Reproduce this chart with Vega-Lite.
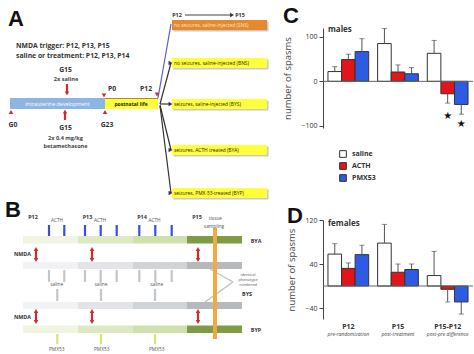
{
  "$schema": "https://vega.github.io/schema/vega-lite/v6.json",
  "padding": {"top": 5, "left": 0, "right": 0, "bottom": 0},
  "spacing": 7,
  "config": {
    "view": {"stroke": null},
    "font": "Open Sans",
    "axis": {"labelFont": "Open Sans", "titleFont": "Open Sans"},
    "legend": {"labelFont": "Open Sans"},
    "title": {"font": "Liberation Sans"}
  },
  "datasets": {
    "rects": [
      {"x": 173.5, "x2": 268.5, "y": 18.5, "y2": 28.5, "kind": "shadow"},
      {"x": 173.5, "x2": 268.5, "y": 56.5, "y2": 66.5, "kind": "shadow"},
      {"x": 173.5, "x2": 268.5, "y": 97.5, "y2": 107.5, "kind": "shadow"},
      {"x": 173.5, "x2": 268.5, "y": 143.5, "y2": 153.5, "kind": "shadow"},
      {"x": 173.5, "x2": 268.5, "y": 186.5, "y2": 196.5, "kind": "shadow"},
      {"x": 10, "x2": 105, "y": 95, "y2": 106, "kind": "blue"},
      {"x": 105, "x2": 158, "y": 95, "y2": 106, "kind": "yel"},
      {"x": 172, "x2": 267, "y": 17, "y2": 27, "kind": "orange"},
      {"x": 172, "x2": 267, "y": 55, "y2": 65, "kind": "yel"},
      {"x": 172, "x2": 267, "y": 96, "y2": 106, "kind": "yel"},
      {"x": 172, "x2": 267, "y": 142, "y2": 152, "kind": "yel"},
      {"x": 172, "x2": 267, "y": 185, "y2": 195, "kind": "yel"},
      {"x": 23, "x2": 78, "y": 233, "y2": 240.5, "kind": "g1"},
      {"x": 78, "x2": 133, "y": 233, "y2": 240.5, "kind": "g2"},
      {"x": 133, "x2": 187, "y": 233, "y2": 240.5, "kind": "g3"},
      {"x": 187, "x2": 242, "y": 233, "y2": 240.5, "kind": "g4"},
      {"x": 23, "x2": 78, "y": 259, "y2": 266, "kind": "s1"},
      {"x": 78, "x2": 133, "y": 259, "y2": 266, "kind": "s2"},
      {"x": 133, "x2": 187, "y": 259, "y2": 266, "kind": "s3"},
      {"x": 187, "x2": 242, "y": 259, "y2": 266, "kind": "s4"},
      {"x": 23, "x2": 78, "y": 299, "y2": 306, "kind": "s1"},
      {"x": 78, "x2": 133, "y": 299, "y2": 306, "kind": "s2"},
      {"x": 133, "x2": 187, "y": 299, "y2": 306, "kind": "s3"},
      {"x": 187, "x2": 242, "y": 299, "y2": 306, "kind": "s4"},
      {"x": 23, "x2": 78, "y": 322.5, "y2": 330, "kind": "g1"},
      {"x": 78, "x2": 133, "y": 322.5, "y2": 330, "kind": "g2"},
      {"x": 133, "x2": 187, "y": 322.5, "y2": 330, "kind": "g3"},
      {"x": 187, "x2": 242, "y": 322.5, "y2": 330, "kind": "g4"}
    ],
    "lines": [
      {"x": 158, "y": 95, "x2": 171, "y2": 21, "kind": "fanblue"},
      {"x": 160, "y": 101, "x2": 171, "y2": 60, "kind": "fan"},
      {"x": 160, "y": 101, "x2": 171, "y2": 101, "kind": "fan"},
      {"x": 160, "y": 102, "x2": 171, "y2": 147, "kind": "fan"},
      {"x": 160, "y": 103, "x2": 171, "y2": 190, "kind": "fan"},
      {"x": 185, "y": 12, "x2": 232, "y2": 12, "kind": "time"},
      {"x": 105, "y": 95.5, "x2": 158, "y2": 95.5, "kind": "brown"},
      {"x": 210, "y": 266, "x2": 233, "y2": 279, "kind": "zig"},
      {"x": 233, "y": 279, "x2": 205, "y2": 299, "kind": "zig"},
      {"x": 67, "y": 81, "x2": 67, "y2": 90, "kind": "red"},
      {"x": 65, "y": 109, "x2": 65, "y2": 117, "kind": "red"},
      {"x": 36, "y": 246, "x2": 36, "y2": 257, "kind": "red"},
      {"x": 92, "y": 246, "x2": 92, "y2": 257, "kind": "red"},
      {"x": 198, "y": 246, "x2": 198, "y2": 257, "kind": "red"},
      {"x": 36, "y": 308, "x2": 36, "y2": 319, "kind": "red"},
      {"x": 92, "y": 308, "x2": 92, "y2": 319, "kind": "red"},
      {"x": 198, "y": 308, "x2": 198, "y2": 319, "kind": "red"},
      {"x": 49, "y": 222, "x2": 49, "y2": 233, "kind": "bluetick"},
      {"x": 64.3, "y": 222, "x2": 64.3, "y2": 233, "kind": "bluetick"},
      {"x": 85, "y": 222, "x2": 85, "y2": 233, "kind": "bluetick"},
      {"x": 100.7, "y": 222, "x2": 100.7, "y2": 233, "kind": "bluetick"},
      {"x": 116.7, "y": 222, "x2": 116.7, "y2": 233, "kind": "bluetick"},
      {"x": 139.3, "y": 222, "x2": 139.3, "y2": 233, "kind": "bluetick"},
      {"x": 155.3, "y": 222, "x2": 155.3, "y2": 233, "kind": "bluetick"},
      {"x": 171.7, "y": 222, "x2": 171.7, "y2": 233, "kind": "bluetick"},
      {"x": 49, "y": 267, "x2": 49, "y2": 279, "kind": "graytick"},
      {"x": 64.3, "y": 267, "x2": 64.3, "y2": 279, "kind": "graytick"},
      {"x": 85, "y": 267, "x2": 85, "y2": 279, "kind": "graytick"},
      {"x": 100.7, "y": 267, "x2": 100.7, "y2": 279, "kind": "graytick"},
      {"x": 116.7, "y": 267, "x2": 116.7, "y2": 279, "kind": "graytick"},
      {"x": 139.3, "y": 267, "x2": 139.3, "y2": 279, "kind": "graytick"},
      {"x": 155.3, "y": 267, "x2": 155.3, "y2": 279, "kind": "graytick"},
      {"x": 171.7, "y": 267, "x2": 171.7, "y2": 279, "kind": "graytick"},
      {"x": 57.3, "y": 286, "x2": 57.3, "y2": 298, "kind": "graytick"},
      {"x": 101, "y": 286, "x2": 101, "y2": 298, "kind": "graytick"},
      {"x": 155, "y": 286, "x2": 155, "y2": 298, "kind": "graytick"},
      {"x": 57.3, "y": 331, "x2": 57.3, "y2": 341, "kind": "yeltick"},
      {"x": 101, "y": 331, "x2": 101, "y2": 341, "kind": "yeltick"},
      {"x": 155, "y": 331, "x2": 155, "y2": 341, "kind": "yeltick"},
      {"x": 215, "y": 225, "x2": 215, "y2": 336, "kind": "orange"}
    ],
    "heads": [
      {"x": 67, "y": 90.5, "kind": "rd"},
      {"x": 104, "y": 92.5, "kind": "rd"},
      {"x": 157, "y": 91.5, "kind": "rd"},
      {"x": 65, "y": 108.5, "kind": "ru"},
      {"x": 11, "y": 109, "kind": "ru"},
      {"x": 105, "y": 109, "kind": "ru"},
      {"x": 36, "y": 246, "kind": "ru"},
      {"x": 92, "y": 246, "kind": "ru"},
      {"x": 198, "y": 246, "kind": "ru"},
      {"x": 36, "y": 257, "kind": "rd"},
      {"x": 92, "y": 257, "kind": "rd"},
      {"x": 198, "y": 257, "kind": "rd"},
      {"x": 36, "y": 308, "kind": "ru"},
      {"x": 92, "y": 308, "kind": "ru"},
      {"x": 198, "y": 308, "kind": "ru"},
      {"x": 36, "y": 319, "kind": "rd"},
      {"x": 92, "y": 319, "kind": "rd"},
      {"x": 198, "y": 319, "kind": "rd"},
      {"x": 170.5, "y": 60, "kind": "ar"},
      {"x": 170.5, "y": 101, "kind": "ar"},
      {"x": 170.5, "y": 147, "kind": "ar"},
      {"x": 170.5, "y": 190, "kind": "ar"},
      {"x": 232, "y": 12, "kind": "ar"}
    ],
    "texts": [
      {"x": 16, "y": 16, "text": "A", "kind": "letter"},
      {"x": 13, "y": 207, "text": "B", "kind": "letter"},
      {"x": 16, "y": 43, "text": "NMDA trigger: P12, P13, P15", "kind": "head"},
      {"x": 16, "y": 53, "text": "saline or treatment: P12, P13, P14", "kind": "head"},
      {"x": 65.5, "y": 67, "text": "G15", "kind": "lbl"},
      {"x": 112, "y": 86, "text": "P0", "kind": "lbl"},
      {"x": 146, "y": 86, "text": "P12", "kind": "lbl"},
      {"x": 13, "y": 122, "text": "G0", "kind": "lbl"},
      {"x": 65.5, "y": 125, "text": "G15", "kind": "lbl"},
      {"x": 107, "y": 122, "text": "G23", "kind": "lbl"},
      {"x": 66, "y": 76, "text": "2x saline", "kind": "sub"},
      {"x": 65.5, "y": 135, "text": "2x 0.4 mg/kg", "kind": "sub"},
      {"x": 65.5, "y": 143, "text": "betamethasone", "kind": "sub"},
      {"x": 57.5, "y": 100.5, "text": "intrauterine development", "kind": "barw"},
      {"x": 131, "y": 101, "text": "postnatal life", "kind": "bark"},
      {"x": 174, "y": 22.5, "text": "no seizures, saline-injected (SNS)", "kind": "boxw"},
      {"x": 174, "y": 60.5, "text": "no seizures, saline-injected (BNS)", "kind": "box"},
      {"x": 174, "y": 101.5, "text": "seizures, saline-injected (BYS)", "kind": "box"},
      {"x": 174, "y": 147.5, "text": "seizures, ACTH treated (BYA)", "kind": "box"},
      {"x": 174, "y": 190.5, "text": "seizures, PMX-53-treated (BYP)", "kind": "box"},
      {"x": 177, "y": 12, "text": "P12", "kind": "bb"},
      {"x": 240, "y": 12, "text": "P15", "kind": "bb"},
      {"x": 33, "y": 214, "text": "P12", "kind": "bb"},
      {"x": 87.5, "y": 214, "text": "P13", "kind": "bb"},
      {"x": 142, "y": 214, "text": "P14", "kind": "bb"},
      {"x": 197, "y": 214, "text": "P15", "kind": "bb"},
      {"x": 22.5, "y": 251, "text": "NMDA", "kind": "bb"},
      {"x": 22.5, "y": 313.5, "text": "NMDA", "kind": "bb"},
      {"x": 256, "y": 238, "text": "BYA", "kind": "bb"},
      {"x": 247, "y": 291, "text": "BYS", "kind": "bb"},
      {"x": 256, "y": 327, "text": "BYP", "kind": "bb"},
      {"x": 57, "y": 218, "text": "ACTH", "kind": "bsm"},
      {"x": 100, "y": 218, "text": "ACTH", "kind": "bsm"},
      {"x": 154.5, "y": 218, "text": "ACTH", "kind": "bsm"},
      {"x": 215.5, "y": 216, "text": "tissue", "kind": "bsm"},
      {"x": 214, "y": 224, "text": "sampling", "kind": "bsm"},
      {"x": 56.7, "y": 282, "text": "saline", "kind": "bsm"},
      {"x": 101, "y": 282, "text": "saline", "kind": "bsm"},
      {"x": 156.7, "y": 282, "text": "saline", "kind": "bsm"},
      {"x": 56.7, "y": 347, "text": "PMX53", "kind": "bsm"},
      {"x": 101.7, "y": 347, "text": "PMX53", "kind": "bsm"},
      {"x": 156.7, "y": 347, "text": "PMX53", "kind": "bsm"},
      {"x": 248, "y": 272, "text": "identical", "kind": "tiny"},
      {"x": 248, "y": 277, "text": "phenotype", "kind": "tiny"},
      {"x": 248, "y": 282, "text": "combined", "kind": "tiny"}
    ],
    "spasms": [
      {"sex": "males", "group": "P12", "treatment": "saline", "spasms": 22, "errorEnd": 33},
      {"sex": "males", "group": "P12", "treatment": "ACTH", "spasms": 49, "errorEnd": 61},
      {"sex": "males", "group": "P12", "treatment": "PMX53", "spasms": 67, "errorEnd": 96},
      {"sex": "males", "group": "P15", "treatment": "saline", "spasms": 85, "errorEnd": 119},
      {"sex": "males", "group": "P15", "treatment": "ACTH", "spasms": 21, "errorEnd": 37},
      {"sex": "males", "group": "P15", "treatment": "PMX53", "spasms": 17, "errorEnd": 31},
      {"sex": "males", "group": "P15-P12", "treatment": "saline", "spasms": 63, "errorEnd": 92},
      {"sex": "males", "group": "P15-P12", "treatment": "ACTH", "spasms": -28, "errorEnd": -49},
      {"sex": "males", "group": "P15-P12", "treatment": "PMX53", "spasms": -52, "errorEnd": -74},
      {"sex": "females", "group": "P12", "treatment": "saline", "spasms": 58, "errorEnd": 77},
      {"sex": "females", "group": "P12", "treatment": "ACTH", "spasms": 32, "errorEnd": 42},
      {"sex": "females", "group": "P12", "treatment": "PMX53", "spasms": 57, "errorEnd": 74},
      {"sex": "females", "group": "P15", "treatment": "saline", "spasms": 78, "errorEnd": 112},
      {"sex": "females", "group": "P15", "treatment": "ACTH", "spasms": 25, "errorEnd": 40},
      {"sex": "females", "group": "P15", "treatment": "PMX53", "spasms": 30, "errorEnd": 40},
      {"sex": "females", "group": "P15-P12", "treatment": "saline", "spasms": 19, "errorEnd": 63},
      {"sex": "females", "group": "P15-P12", "treatment": "ACTH", "spasms": -6, "errorEnd": -29},
      {"sex": "females", "group": "P15-P12", "treatment": "PMX53", "spasms": -29, "errorEnd": -51}
    ]
  },
  "resolve": {"scale": {"color": "independent", "shape": "independent"}, "legend": {"color": "independent"}},
  "hconcat": [
    {
      "width": 275,
      "height": 329,
      "encoding": {
        "x": {"field": "x", "type": "quantitative", "scale": {"domain": [0, 275], "nice": false, "zero": false}, "axis": null},
        "y": {"field": "y", "type": "quantitative", "scale": {"domain": [25, 354], "reverse": true, "nice": false, "zero": false}, "axis": null}
      },
      "layer": [
        {
          "data": {"name": "rects"},
          "mark": {"type": "rect"},
          "encoding": {
            "x2": {"field": "x2"},
            "y2": {"field": "y2"},
            "fill": {"field": "kind", "type": "nominal", "legend": null,
              "scale": {"domain": ["shadow", "blue", "yel", "orange", "g1", "g2", "g3", "g4", "s1", "s2", "s3", "s4"],
                        "range": ["#c9c9c9", "#8eb4e3", "#ffff3a", "#e4892e", "#f0f5e2", "#dde8c4", "#cfe0aa", "#7e9c44", "#f1f2f4", "#e2e4e7", "#d1d4d7", "#b7babd"]}}
          }
        },
        {
          "data": {"name": "lines"},
          "transform": [{"filter": "indexof(['fan','fanblue','time','zig','brown'], datum.kind) >= 0"}],
          "mark": {"type": "rule", "strokeWidth": 1.2},
          "encoding": {
            "x2": {"field": "x2"},
            "y2": {"field": "y2"},
            "stroke": {"field": "kind", "type": "nominal", "legend": null,
              "scale": {"domain": ["fan", "fanblue", "time", "zig", "brown", "red", "bluetick", "graytick", "yeltick", "orange"],
                        "range": ["#333333", "#5a5ad6", "#444444", "#bdbfc2", "#b5853a", "#d42a2a", "#3a4fd6", "#c3c6ca", "#d9e46a", "#f3a843"]}}
          }
        },
        {
          "data": {"name": "lines"},
          "transform": [{"filter": "indexof(['red','bluetick','graytick','yeltick'], datum.kind) >= 0"}],
          "mark": {"type": "rule", "strokeWidth": 2.2},
          "encoding": {
            "x2": {"field": "x2"},
            "y2": {"field": "y2"},
            "stroke": {"field": "kind", "type": "nominal", "legend": null,
              "scale": {"domain": ["fan", "fanblue", "time", "zig", "brown", "red", "bluetick", "graytick", "yeltick", "orange"],
                        "range": ["#333333", "#5a5ad6", "#444444", "#bdbfc2", "#b5853a", "#d42a2a", "#3a4fd6", "#c3c6ca", "#d9e46a", "#f3a843"]}}
          }
        },
        {
          "data": {"name": "lines"},
          "transform": [{"filter": "datum.kind == 'orange'"}],
          "mark": {"type": "rule", "strokeWidth": 4},
          "encoding": {
            "x2": {"field": "x2"},
            "y2": {"field": "y2"},
            "stroke": {"field": "kind", "type": "nominal", "legend": null,
              "scale": {"domain": ["fan", "fanblue", "time", "zig", "brown", "red", "bluetick", "graytick", "yeltick", "orange"],
                        "range": ["#333333", "#5a5ad6", "#444444", "#bdbfc2", "#b5853a", "#d42a2a", "#3a4fd6", "#c3c6ca", "#d9e46a", "#f3a843"]}}
          }
        },
        {
          "data": {"name": "heads"},
          "mark": {"type": "point", "filled": true, "size": 20, "opacity": 1},
          "encoding": {
            "shape": {"field": "kind", "type": "nominal", "legend": null,
              "scale": {"domain": ["rd", "ru", "ar"], "range": ["triangle-down", "triangle-up", "triangle-right"]}},
            "color": {"field": "kind", "type": "nominal", "legend": null,
              "scale": {"domain": ["rd", "ru", "ar"], "range": ["#d42a2a", "#d42a2a", "#333333"]}}
          }
        },
        {
          "data": {"name": "texts"},
          "transform": [{"filter": "datum.kind == 'letter'"}],
          "mark": {"type": "text", "font": "Liberation Sans", "fontSize": 22, "fontWeight": "bold", "color": "#111", "align": "center", "baseline": "middle"},
          "encoding": {"text": {"field": "text"}}
        },
        {
          "data": {"name": "texts"},
          "transform": [{"filter": "datum.kind == 'head'"}],
          "mark": {"type": "text", "fontSize": 6.8, "fontWeight": "bold", "color": "#333", "align": "left", "baseline": "middle"},
          "encoding": {"text": {"field": "text"}}
        },
        {
          "data": {"name": "texts"},
          "transform": [{"filter": "datum.kind == 'lbl'"}],
          "mark": {"type": "text", "fontSize": 6.8, "fontWeight": "bold", "color": "#333", "align": "center", "baseline": "middle"},
          "encoding": {"text": {"field": "text"}}
        },
        {
          "data": {"name": "texts"},
          "transform": [{"filter": "datum.kind == 'sub'"}],
          "mark": {"type": "text", "fontSize": 5.6, "fontWeight": "bold", "color": "#444", "align": "center", "baseline": "middle"},
          "encoding": {"text": {"field": "text"}}
        },
        {
          "data": {"name": "texts"},
          "transform": [{"filter": "datum.kind == 'barw'"}],
          "mark": {"type": "text", "fontSize": 5.4, "color": "#ffffff", "align": "center", "baseline": "middle"},
          "encoding": {"text": {"field": "text"}}
        },
        {
          "data": {"name": "texts"},
          "transform": [{"filter": "datum.kind == 'bark'"}],
          "mark": {"type": "text", "fontSize": 5, "fontWeight": "bold", "color": "#222", "align": "center", "baseline": "middle"},
          "encoding": {"text": {"field": "text"}}
        },
        {
          "data": {"name": "texts"},
          "transform": [{"filter": "datum.kind == 'box'"}],
          "mark": {"type": "text", "fontSize": 4.9, "color": "#222", "align": "left", "baseline": "middle"},
          "encoding": {"text": {"field": "text"}}
        },
        {
          "data": {"name": "texts"},
          "transform": [{"filter": "datum.kind == 'boxw'"}],
          "mark": {"type": "text", "fontSize": 4.9, "color": "#fbe6cc", "align": "left", "baseline": "middle"},
          "encoding": {"text": {"field": "text"}}
        },
        {
          "data": {"name": "texts"},
          "transform": [{"filter": "datum.kind == 'bb'"}],
          "mark": {"type": "text", "fontSize": 5.4, "fontWeight": "bold", "color": "#333", "align": "center", "baseline": "middle"},
          "encoding": {"text": {"field": "text"}}
        },
        {
          "data": {"name": "texts"},
          "transform": [{"filter": "datum.kind == 'bsm'"}],
          "mark": {"type": "text", "fontSize": 4.8, "color": "#555", "align": "center", "baseline": "middle"},
          "encoding": {"text": {"field": "text"}}
        },
        {
          "data": {"name": "texts"},
          "transform": [{"filter": "datum.kind == 'tiny'"}],
          "mark": {"type": "text", "fontSize": 3.8, "color": "#555", "align": "center", "baseline": "middle"},
          "encoding": {"text": {"field": "text"}}
        }
      ]
    },
    {
      "spacing": 21,
      "resolve": {"scale": {"color": "independent"}, "legend": {"color": "independent"}},
      "vconcat": [
        {
          "width": 150,
          "height": 100,
          "title": {"text": "C", "fontSize": 22, "fontWeight": "bold", "anchor": "start", "frame": "bounds", "offset": -2, "color": "#111"},
          "layer": [
            {
              "data": {"name": "spasms"},
              "transform": [{"filter": "datum.sex == 'males'"}],
              "mark": {"type": "bar", "stroke": "#333", "strokeWidth": 1},
              "encoding": {
                "x": {"field": "group", "type": "nominal", "sort": ["P12", "P15", "P15-P12"], "scale": {"paddingInner": 0.18, "paddingOuter": 0.1}, "axis": null},
                "xOffset": {"field": "treatment", "type": "nominal", "sort": ["saline", "ACTH", "PMX53"]},
                "y": {"field": "spasms", "type": "quantitative", "scale": {"domain": [-105, 120], "nice": false},
                  "axis": {"title": "number of spasms", "values": [-100, -50, 0, 50, 100], "grid": false, "tickSize": 4, "labelFontSize": 7, "labelColor": "#333", "labelPadding": 2, "titleFontSize": 9.5, "titleFontWeight": "normal", "titleColor": "#444", "titlePadding": 8, "domainColor": "#444", "tickColor": "#444"}},
                "color": {"field": "treatment", "type": "nominal", "scale": {"domain": ["saline", "ACTH", "PMX53"], "range": ["#ffffff", "#e3151b", "#2d5be3"]},
                  "legend": {"title": null, "orient": "none", "legendX": 16, "legendY": 122, "symbolType": "square", "symbolSize": 45, "symbolStrokeColor": "#333", "symbolStrokeWidth": 1, "labelFontSize": 7, "labelFontWeight": "bold", "labelColor": "#333", "rowPadding": 0, "labelOffset": 5}}
              }
            },
            {
              "data": {"name": "spasms"},
              "transform": [{"filter": "datum.sex == 'males'"}],
              "mark": {"type": "rule", "color": "#555", "strokeWidth": 1},
              "encoding": {
                "x": {"field": "group", "type": "nominal", "sort": ["P12", "P15", "P15-P12"], "scale": {"paddingInner": 0.18, "paddingOuter": 0.1}, "axis": null},
                "xOffset": {"field": "treatment", "type": "nominal", "sort": ["saline", "ACTH", "PMX53"]},
                "y": {"field": "spasms", "type": "quantitative"},
                "y2": {"field": "errorEnd"}
              }
            },
            {
              "data": {"name": "spasms"},
              "transform": [{"filter": "datum.sex == 'males'"}],
              "mark": {"type": "tick", "color": "#555", "thickness": 1, "size": 5},
              "encoding": {
                "x": {"field": "group", "type": "nominal", "sort": ["P12", "P15", "P15-P12"], "scale": {"paddingInner": 0.18, "paddingOuter": 0.1}, "axis": null},
                "xOffset": {"field": "treatment", "type": "nominal", "sort": ["saline", "ACTH", "PMX53"]},
                "y": {"field": "errorEnd", "type": "quantitative"}
              }
            },
            {
              "data": {"values": [{"v": 0}]},
              "mark": {"type": "rule", "color": "#666", "strokeWidth": 1},
              "encoding": {"y": {"field": "v", "type": "quantitative"}}
            },
            {
              "data": {"values": [{"group": "P15-P12", "treatment": "ACTH", "y": -78}, {"group": "P15-P12", "treatment": "PMX53", "y": -95}]},
              "mark": {"type": "text", "text": "★", "fontSize": 10, "color": "#111", "font": "DejaVu Sans", "baseline": "middle"},
              "encoding": {
                "x": {"field": "group", "type": "nominal", "sort": ["P12", "P15", "P15-P12"], "scale": {"paddingInner": 0.18, "paddingOuter": 0.1}, "axis": null},
                "xOffset": {"field": "treatment", "type": "nominal", "sort": ["saline", "ACTH", "PMX53"]},
                "y": {"field": "y", "type": "quantitative"}
              }
            },
            {
              "data": {"values": [{"group": "P12", "y": 115, "label": "males"}]},
              "mark": {"type": "text", "fontSize": 8, "fontWeight": "bold", "color": "#333", "align": "left", "baseline": "middle"},
              "encoding": {
                "x": {"field": "group", "type": "nominal", "sort": ["P12", "P15", "P15-P12"], "scale": {"paddingInner": 0.18, "paddingOuter": 0.1}, "axis": null, "bandPosition": 0},
                "y": {"field": "y", "type": "quantitative"},
                "text": {"field": "label"}
              }
            }
          ]
        },
        {
          "width": 150,
          "height": 99,
          "title": {"text": "D", "fontSize": 22, "fontWeight": "bold", "anchor": "start", "frame": "bounds", "offset": -12, "color": "#111"},
          "resolve": {"scale": {"x": "independent"}, "axis": {"x": "independent"}},
          "layer": [
            {
              "layer": [
                {
                  "data": {"name": "spasms"},
                  "transform": [{"filter": "datum.sex == 'females'"}],
                  "mark": {"type": "bar", "stroke": "#333", "strokeWidth": 1},
                  "encoding": {
                    "x": {"field": "group", "type": "nominal", "sort": ["P12", "P15", "P15-P12"], "scale": {"paddingInner": 0.18, "paddingOuter": 0.1},
                      "axis": {"orient": "bottom", "title": null, "domain": false, "ticks": false, "labelAngle": 0, "labelPadding": 3, "labelFontSize": 7, "labelFontWeight": "bold", "labelColor": "#333"}},
                    "xOffset": {"field": "treatment", "type": "nominal", "sort": ["saline", "ACTH", "PMX53"]},
                    "y": {"field": "spasms", "type": "quantitative", "scale": {"domain": [-60, 120], "nice": false},
                      "axis": {"title": "number of spasms", "values": [-40, 0, 40, 80, 120], "grid": false, "tickSize": 4, "labelFontSize": 7, "labelColor": "#333", "labelPadding": 2, "titleFontSize": 9.5, "titleFontWeight": "normal", "titleColor": "#444", "titlePadding": 8, "domainColor": "#444", "tickColor": "#444"}},
                    "color": {"field": "treatment", "type": "nominal", "scale": {"domain": ["saline", "ACTH", "PMX53"], "range": ["#ffffff", "#e3151b", "#2d5be3"]}, "legend": null}
                  }
                },
                {
                  "data": {"name": "spasms"},
                  "transform": [{"filter": "datum.sex == 'females'"}],
                  "mark": {"type": "rule", "color": "#555", "strokeWidth": 1},
                  "encoding": {
                    "x": {"field": "group", "type": "nominal", "sort": ["P12", "P15", "P15-P12"], "scale": {"paddingInner": 0.18, "paddingOuter": 0.1}},
                    "xOffset": {"field": "treatment", "type": "nominal", "sort": ["saline", "ACTH", "PMX53"]},
                    "y": {"field": "spasms", "type": "quantitative"},
                    "y2": {"field": "errorEnd"}
                  }
                },
                {
                  "data": {"name": "spasms"},
                  "transform": [{"filter": "datum.sex == 'females'"}],
                  "mark": {"type": "tick", "color": "#555", "thickness": 1, "size": 5},
                  "encoding": {
                    "x": {"field": "group", "type": "nominal", "sort": ["P12", "P15", "P15-P12"], "scale": {"paddingInner": 0.18, "paddingOuter": 0.1}},
                    "xOffset": {"field": "treatment", "type": "nominal", "sort": ["saline", "ACTH", "PMX53"]},
                    "y": {"field": "errorEnd", "type": "quantitative"}
                  }
                },
                {
                  "data": {"values": [{"v": 0}]},
                  "mark": {"type": "rule", "color": "#666", "strokeWidth": 1},
                  "encoding": {"y": {"field": "v", "type": "quantitative"}}
                },
                {
                  "data": {"values": [{"group": "P12", "y": 113, "label": "females"}]},
                  "mark": {"type": "text", "fontSize": 8, "fontWeight": "bold", "color": "#333", "align": "left", "baseline": "middle"},
                  "encoding": {
                    "x": {"field": "group", "type": "nominal", "sort": ["P12", "P15", "P15-P12"], "scale": {"paddingInner": 0.18, "paddingOuter": 0.1}, "bandPosition": 0},
                    "y": {"field": "y", "type": "quantitative"},
                    "text": {"field": "label"}
                  }
                }
              ]
            },
            {
              "data": {"values": [{"group": "P12"}, {"group": "P15"}, {"group": "P15-P12"}]},
              "mark": {"type": "text", "opacity": 0},
              "encoding": {
                "x": {"field": "group", "type": "nominal", "sort": ["P12", "P15", "P15-P12"], "scale": {"type": "band", "paddingInner": 0.18, "paddingOuter": 0.1},
                  "axis": {"orient": "bottom", "title": null, "domain": false, "ticks": false, "labelAngle": 0, "labelPadding": 12, "labelFontSize": 5, "labelFontStyle": "italic", "labelColor": "#444",
                    "labelExpr": "datum.value == 'P12' ? 'pre-randomization' : datum.value == 'P15' ? 'post-treatment' : 'post-pre difference'"}},
                "text": {"field": "group"}
              }
            }
          ]
        }
      ]
    }
  ]
}
